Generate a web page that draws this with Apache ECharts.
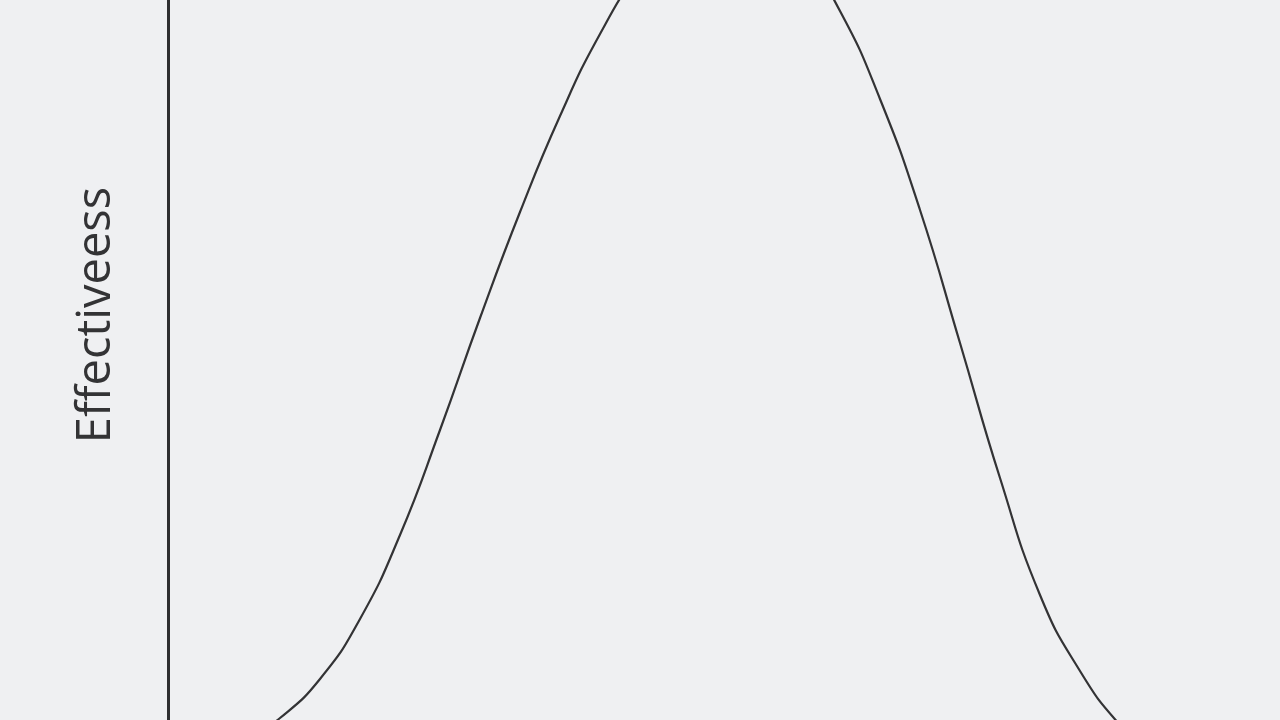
<!DOCTYPE html>
<html>
<head>
<meta charset="utf-8">
<script src="https://cdn.jsdelivr.net/npm/echarts@6/dist/echarts.min.js"></script>
<style>
  html, body { margin: 0; padding: 0; background: #eff0f2; }
  #chart { width: 1280px; height: 720px; }
</style>
</head>
<body>
<div id="chart"></div>
<script>
// curve: x from the axis line, height from the bottom edge
var curveX = [72, 112, 152, 192, 232, 272, 312, 352, 392, 432, 472, 512,
              552, 592, 632, 672, 712, 752, 792, 832, 872, 912, 952, 992]
var curveY = [-25, 2, 41, 101, 185, 290, 402, 508, 604, 686, 750, 795,
              814, 806, 771, 709, 621, 510, 377, 242, 125, 49, -5, -42]
var yLabel = 'Effectiveess'

var curve = []
for (var i = 0; i < curveX.length; i++) {
    curve.push([curveX[i], curveY[i]])
}

var chart = echarts.init(document.getElementById('chart'))
var option = {
    backgroundColor: '#eff0f2',
    animation: false,
    grid: { left: 168, right: 0, top: 0, bottom: 0 },
    xAxis: {
        type: 'value',
        min: 0,
        max: 1112,
        show: false
    },
    yAxis: {
        type: 'value',
        min: 0,
        max: 720,
        axisLine: { show: true, lineStyle: { color: '#2e2e30', width: 3 } },
        axisTick: { show: false },
        axisLabel: { show: false },
        splitLine: { show: false }
    },
    graphic: [{
        type: 'text',
        x: 97,
        y: 315,
        rotation: Math.PI / 2,
        style: {
            text: yLabel,
            font: '400 47px "Open Sans", sans-serif',
            fill: '#333335',
            textAlign: 'center',
            textVerticalAlign: 'middle'
        }
    }],
    series: [{
        type: 'line',
        data: curve,
        smooth: 0.5,
        showSymbol: false,
        clip: true,
        lineStyle: { color: '#333335', width: 2.2 }
    }]
}
chart.setOption(option)
</script>
</body>
</html>
